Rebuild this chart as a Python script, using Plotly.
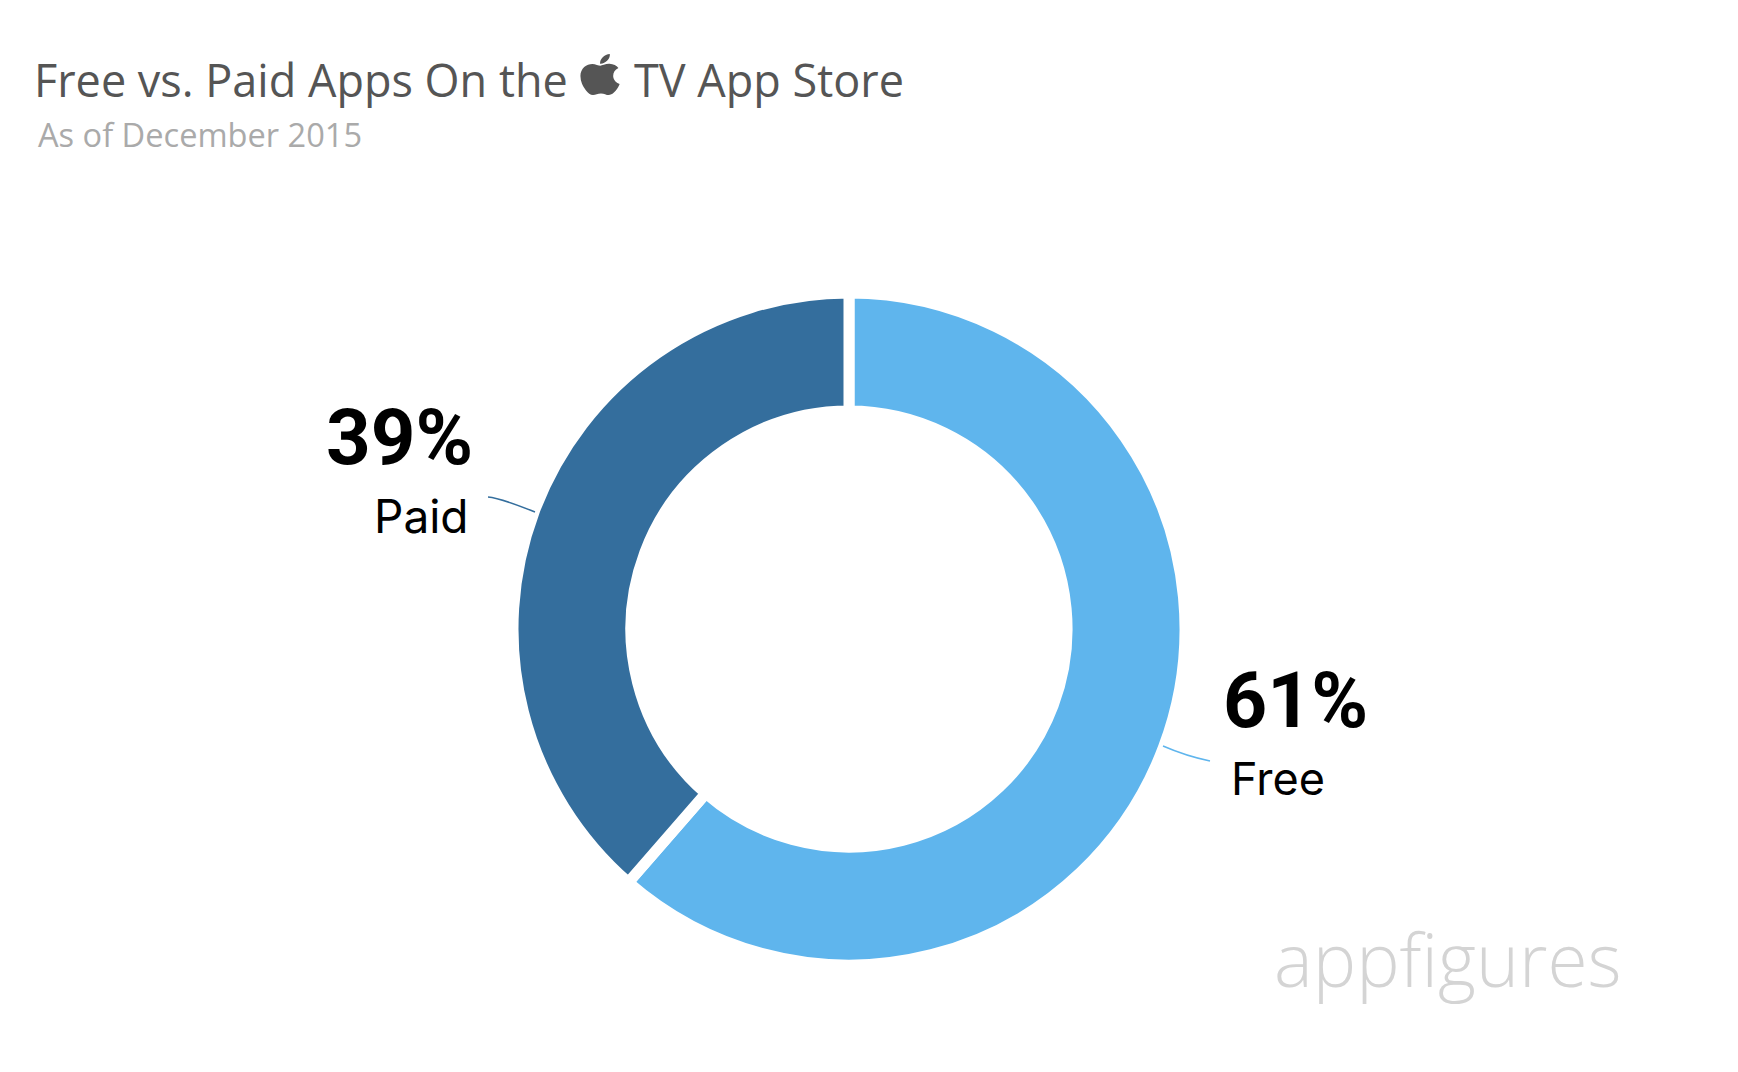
import base64
import plotly.graph_objects as go

W, H = 1738, 1072
categories = ["Free", "Paid"]
values = [61.4, 38.6]
colors = ["#5fb5ed", "#346e9d"]
title_left = "Free vs. Paid Apps On the"
title_right = "TV App Store"
subtitle = "As of December 2015"
watermark = "appf\u200cigures"
percent_labels = ["61%", "39%"]

cx, cy, r = 849, 629, 336


def px(x):
    return x / W


def py(y):
    return 1 - y / H


def note(text, x, y, size, color, family, anchor="left", weight=400):
    return dict(text=text, x=px(x), y=py(y), xref="paper", yref="paper",
                showarrow=False, xanchor=anchor, yanchor="middle",
                font=dict(size=size, color=color, family=family, weight=weight), borderpad=0)


def curve(x0, y0, qx, qy, x1, y1, color):
    return dict(type="path", xref="paper", yref="paper",
                path=f"M {px(x0)} {py(y0)} Q {px(qx)} {py(qy)} {px(x1)} {py(y1)}",
                line=dict(color=color, width=1.5))


apple = ('<svg xmlns="http://www.w3.org/2000/svg" viewBox="0 0 384 512"><path fill="#555555" d="'
         'M318.7 268.7c-.2-36.7 16.4-64.4 50-84.8-18.8-26.9-47.2-41.7-84.7-44.6-35.5-2.8-74.3 20.7-88.5 20.7'
         '-15 0-49.4-19.7-76.4-19.7C63.3 141.2 4 184.8 4 273.5q0 39.3 14.4 81.2c12.8 36.7 59 126.7 107.2 125.2'
         ' 25.2-.6 43-17.9 75.8-17.9 31.8 0 48.3 17.9 76.4 17.9 48.6-.7 90.4-82.5 102.6-119.3-65.2-30.7-61.7-90'
         '-61.7-91.9zm-56.6-164.2c27.3-32.4 24.8-61.9 24-72.5-24.1 1.4-52 16.4-67.9 34.9-17.5 19.8-27.8 44.3'
         '-25.6 71.9 26.1 2 49.9-11.4 69.5-34.3z"/></svg>')
apple_uri = "data:image/svg+xml;base64," + base64.b64encode(apple.encode()).decode()

fig = go.Figure(go.Pie(
    labels=categories, values=values, hole=0.649, sort=False, direction="clockwise", rotation=0,
    textinfo="none", hoverinfo="label+percent", showlegend=False,
    marker=dict(colors=colors, line=dict(color="white", width=11)),
    domain=dict(x=[px(cx - r), px(cx + r)], y=[py(cy + r), py(cy - r)]),
))

fig.update_layout(
    width=W, height=H, margin=dict(l=0, r=0, t=0, b=0), paper_bgcolor="white", showlegend=False,
    annotations=[
        note(title_left, 33, 79.5, 45, "#555555", "Open Sans"),
        note(title_right, 633, 79.5, 45, "#555555", "Open Sans"),
        note(subtitle, 37, 134, 32.6, "#aaaaaa", "Open Sans"),
        note(percent_labels[0], 1222, 701, 77, "#000000", "Roboto", weight=700),
        note(categories[0], 1230, 778, 45, "#000000", "Inter"),
        note(percent_labels[1], 474, 437, 78, "#000000", "Roboto", anchor="right", weight=700),
        note(categories[1], 470, 516, 46, "#000000", "Inter", anchor="right"),
        note(watermark, 1273, 958, 73, "#d4d4d4", "Open Sans", weight=300),
    ],
    shapes=[
        curve(1163, 746, 1186, 756, 1210, 761, colors[0]),
        curve(488, 497, 500, 498, 535, 512, colors[1]),
    ],
    images=[dict(source=apple_uri, xref="paper", yref="paper", x=px(580), y=py(51), sizex=40 / W, sizey=47 / H,
                 xanchor="left", yanchor="top", sizing="stretch", layer="above")],
)
fig.write_html("out.html", config=dict(displayModeBar=False), post_script="document.body.style.margin='0';")
